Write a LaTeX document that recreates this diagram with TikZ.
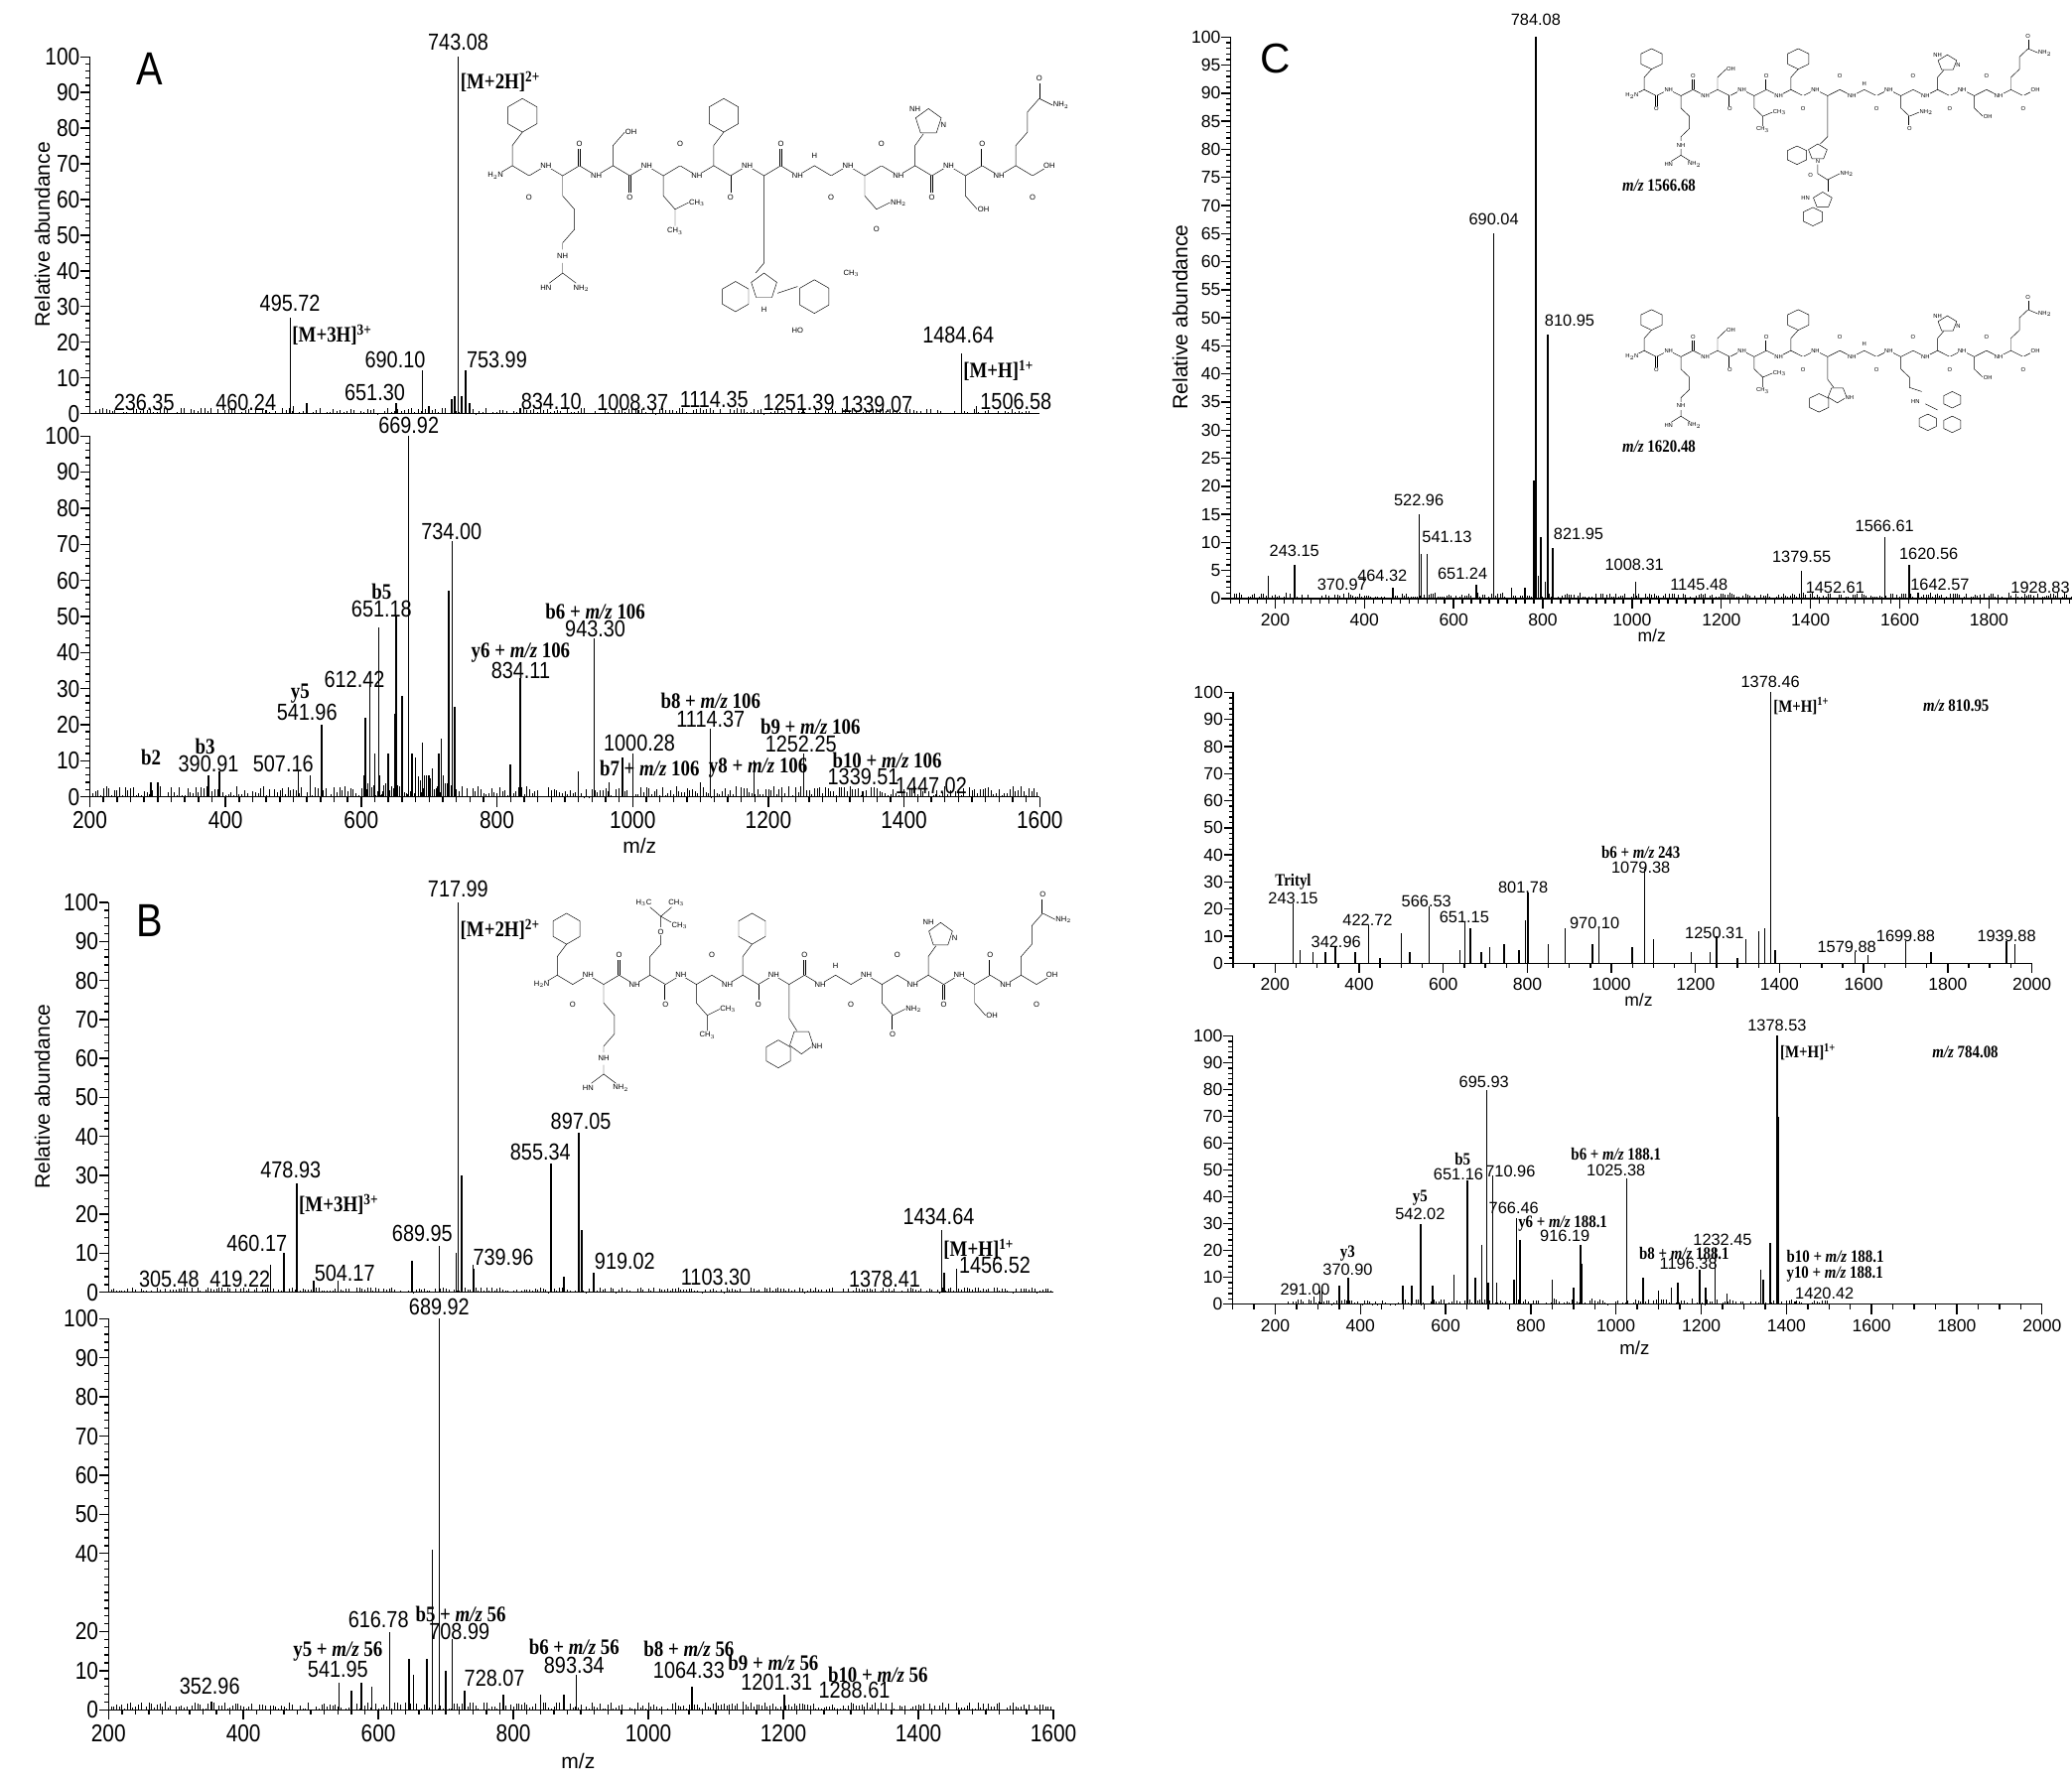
\documentclass[tikz,border=0pt]{standalone}
\usepackage{fontspec}
\setmainfont{Liberation Sans}
\newfontfamily\nar[FakeStretch=0.85]{Liberation Sans}
\newfontfamily\nsr[FakeStretch=0.85]{Liberation Serif}
\newcommand\mz{\textit{m/z}}
\newcommand\hexa[3]{\draw (#1,#2) ++(30:#3) -- ++(150:#3) -- ++(210:#3) -- ++(270:#3) -- ++(330:#3) -- ++(30:#3) -- cycle;}
\newcommand\penta[3]{\draw (#1,#2) +(90:#3) -- +(162:#3) -- +(234:#3) -- +(306:#3) -- +(18:#3) -- cycle;}
\newcommand\yaxis[4]{\draw[ax] (#1,0)--(#1,100);
 \foreach \p in {#3} \draw[ax] (#1,\p)--++(-0.13cm,0);
 \foreach \p in {#2} {\draw[ax] (#1,\p)--++(-0.28cm,0); \node[#4,anchor=east,xshift=-0.3cm] at (#1,\p) {\p};}}
\newcommand\xaxis[5]{\draw[ax] (#1,0)--(#2,0);
 \foreach \m in {#3} \draw[ax] (\m,0)--++(0,-0.15cm);
 \foreach \m in {#4} {\draw[ax] (\m,0)--++(0,-0.3cm); \node[#5,anchor=north,yshift=-0.45cm] at (\m,0){\m};}}
\newcommand\noise[2]{\foreach \m in {#1}{\draw[nz] (\m,0)--(\m,{rnd*#2});}}
\newcommand\peaks[1]{\foreach \m/\h in {#1}{\draw[pk] (\m,0)--(\m,\h);}}
\newcommand\labs[2]{\foreach \m/\h/\t in {#2}{\node[#1] at (\m,\h) {\t};}}
\newcommand\backbone{%
 \draw (0,0) \foreach \i in {1,...,32}{ -- ({\i*10},{mod(\i,2)*6}) } -- (330,6);
 \foreach \k in {0,...,10}{\pgfmathtruncatemacro\ii{3*\k+2}\pgfmathsetmacro\yy{mod(\ii,2)}
   \ifdim\yy pt=0pt \draw[double,double distance=1.2pt] (\ii*10,0)--(\ii*10,-10); \node[sm] at (\ii*10,-13){O};
   \else \draw[double,double distance=1.2pt] (\ii*10,6)--(\ii*10,16); \node[sm] at (\ii*10,19){O};\fi}
 \foreach \k in {1,...,10}{\pgfmathtruncatemacro\ii{3*\k}\node[sm] at (\ii*10,{mod(\ii,2)*6}){NH};}
 \node[sm] at (0,0){H$_2$N}; \node[sm] at (330,6){OH};}
\newcommand\res[2]{\pgfmathtruncatemacro\ii{3*#1+1}\pgfmathsetmacro\yy{mod(\ii,2)}
 \ifdim\yy pt=0pt \pic[yscale=-1] at (\ii*10,0) {#2};\else \pic at (\ii*10,6) {#2};\fi}
\usetikzlibrary{shapes.geometric}
\tikzset{
 lab/.style={font=\nar\fontsize{20}{22}\selectfont, inner sep=0pt},
 blab/.style={font=\nsr\bfseries\fontsize{19}{21}\selectfont, inner sep=0pt},
 tk/.style={font=\nar\fontsize{21}{22}\selectfont, inner sep=0pt},
 clab/.style={font=\fontsize{14}{15}\selectfont, inner sep=0pt},
 cblab/.style={font=\nsr\bfseries\fontsize{15}{16}\selectfont, inner sep=0pt},
 ctk/.style={font=\fontsize{15}{16}\selectfont, inner sep=0pt},
 pk/.style={line width=1.3pt}, nz/.style={line width=0.6pt}, ax/.style={line width=1.2pt},
 sm/.style={font=\fontsize{6.5}{7}\selectfont, inner sep=0.4pt, fill=white},
 phe/.pic={\draw (0,0)--(0,12)--(6,20); \hexa{6}{30}{10}},
 arg/.pic={\draw (0,0)--(0,12)--(7,20)--(7,32)--(0,40)--(0,44); \node[sm] at (0,48){NH};
   \draw (0,52)--(0,58)--(-8,64) (0,58)--(8,64); \node[sm] at (-10,67){HN}; \node[sm] at (11,67){NH$_2$};},
 ser/.pic={\draw (0,0)--(0,12)--(7,20); \node[sm,anchor=west] at (7,20){OH};},
 tbu/.pic={\draw (0,0)--(0,12)--(7,20)--(7,26); \node[sm] at (7,28){O}; \draw (7,31)--(7,38) (7,38)--(0,44) (7,38)--(14,44) (7,38)--(14,34);
   \node[sm] at (-4,47){H$_3$C}; \node[sm] at (17,47){CH$_3$}; \node[sm] at (19,32){CH$_3$};},
 leu/.pic={\draw (0,0)--(0,12)--(7,20)--(7,30); \draw (7,20)--(15,16); \node[sm,anchor=west] at (15,16){CH$_3$}; \node[sm] at (7,33){CH$_3$};},
 gly/.pic={\node[sm] at (0,6){H};},
 asn/.pic={\draw (0,0)--(0,12)--(7,20)--(15,16); \draw[double,double distance=1.2pt] (7,20)--(7,29); \node[sm] at (7,32){O}; \node[sm,anchor=west] at (15,16){NH$_2$};},
 his/.pic={\draw (0,0)--(0,12)--(5,19); \penta{8}{26}{8}; \node[sm] at (0,34){NH}; \node[sm] at (17,24){N};},
 gln/.pic={\draw (0,0)--(0,12)--(7,20)--(7,32)--(14,40)--(22,36); \draw[double,double distance=1.2pt] (14,40)--(14,49); \node[sm] at (14,52){O}; \node[sm,anchor=west] at (22,36){NH$_2$};},
 trp/.pic={\draw (0,0)--(0,22)--(5,30); \penta{8}{37}{8}; \hexa{-7}{45}{9}; \node[sm] at (18,40){NH};},
}
\begin{document}
\begin{tikzpicture}
\useasboundingbox (0,0) rectangle (62.72cm,-53.96cm);
\pgfmathsetseed{7}
% ---------- A top
\begin{scope}[shift={(-1.388cm,-12.52cm)},x=0.020544cm,y=0.108cm]
 \noise{204,209,...,1596}{1.6}
 \peaks{743.08/100,495.72/27,690.10/12,651.30/3,753.99/12,748/5,738/5,733/4,1484.64/17,1506.58/2,834.10/1.5,1114.35/1.5,1008.37/1,1251.39/1,236.35/1,460.24/1,520/3,700/2,760/3,500/2}
 \yaxis{200}{0,10,...,100}{0,2,...,100}{tk}
 \draw[ax] (200,0)--(1600,0);
 \labs{lab}{743/104/743.08,495/31/495.72,650/15/690.10,620/6/651.30,280/3/236.35,430/3/460.24,880/3.5/834.10,1000/3/1008.37,1120/4/1114.35,1245/3/1251.39,1360/2.5/1339.07,1480/22/1484.64,1565/3.5/1506.58}
 \node[lab,anchor=west] at (755,15){753.99};
 \node[blab,anchor=west] at (746,93){[M+2H]\textsuperscript{2+}};
 \node[blab,anchor=west] at (498,22){[M+3H]\textsuperscript{3+}};
 \node[blab,anchor=west] at (1487,12){[M+H]\textsuperscript{1+}};
\end{scope}
\node[font=\nar\fontsize{40}{40}\selectfont] (A) at (4.52cm,-2.08cm){A};
\node[rotate=90,font=\fontsize{18}{18}\selectfont] (ra) at (1.28cm,-7.1cm){Relative abundance};
% structure A
\begin{scope}[shift={(15.0cm,-5.32cm)},x=0.0508cm,y=0.0508cm]
 \backbone
 \res{0}{phe}\res{1}{arg}\res{2}{ser}\res{3}{leu}\res{4}{phe}
 \res{6}{gly}\res{7}{asn}\res{8}{his}\res{9}{ser}\res{10}{gln}
 \draw (160,0)--(160,-52)--(155,-58); \penta{160}{-66}{8}\hexa{143}{-72}{9}
 \draw (168,-70)--(180,-66); \hexa{190}{-72}{10}\node[sm] at (212,-58){CH$_3$};\node[sm] at (180,-92){HO};\node[sm] at (160,-80){H};
\end{scope}
% ---------- A bottom
\begin{scope}[shift={(-1.388cm,-24.12cm)},x=0.020544cm,y=0.1092cm]
 \noise{204,208,...,1596}{3}
 \noise{600,603,...,740}{6}
 \peaks{669.92/100,734/71,729/57,651.18/50,626/47,943.30/44,834.11/33,612.42/31,541.96/20,606/22,660/28,650/23,690/15,718/16,738/25,714/12,705/8,1114.37/19,1252.25/12,1000.28/12,985/11,1179/10,920/7,820/9,390.91/7,375/6,507.16/7,525/6,300/4,290/4,1339.51/1.5,1447.02/0.7,1100/4,1230/3,965/4,640/12,620/12,675/12,680/11,700/6}
 \yaxis{200}{0,10,...,100}{0,2,...,100}{tk}
 \xaxis{200}{1600}{200,220,...,1600}{200,400,...,1600}{tk}
 \labs{lab}{670/103/669.92,733/73.5/734.00,630/52/651.18,945/46.5/943.30,835/35/834.11,590/32.5/612.42,520/23.5/541.96,1115/21.5/1114.37,1248/14.5/1252.25,1010/15/1000.28,1340/5.5/1339.51,1440/3/1447.02,375/9/390.91,485/9/507.16}
 \labs{blab}{630/57/b5,510/28.5/y5,290/11/b2,370/14/b3}
 \node[blab] at (945,51.5){b6 + \mz{} 106};
 \node[blab] at (835,40){y6 + \mz{} 106};
 \node[blab] at (1115,26.5){b8 + \mz{} 106};
 \node[blab] at (1262,19.5){b9 + \mz{} 106};
 \node[blab] at (1025,8){b7 + \mz{} 106};
 \node[blab] at (1185,8){y8 + \mz{} 106};
 \node[blab] at (1375,10){b10 + \mz{} 106};
\end{scope}
\node[font=\fontsize{18}{18}\selectfont] (mza) at (19.36cm,-25.6cm){m/z};
% ---------- B top
\begin{scope}[shift={(-0.804cm,-39.12cm)},x=0.020429cm,y=0.118cm]
 \noise{204,208,...,1596}{1.3}
 \peaks{717.99/100,723/30,478.93/28,897.05/41,855.34/33,901/16,689.95/12,650/8,460.17/10,440/7,1434.64/16,1456.52/6,1438/5,739.96/7,742/6,919.02/5,504.17/3,540/3,875/4,715/10}
 \yaxis{200}{0,10,...,100}{0,2,...,100}{tk}
 \draw[ax] (200,0)--(1600,0);
 \labs{lab}{718/103.5/717.99,470/31.5/478.93,900/44/897.05,840/36/855.34,665/15/689.95,420/12.5/460.17,290/3.5/305.48,395/3.5/419.22,1100/4/1103.30,1350/3.5/1378.41,1430/19.5/1434.64}
 \node[lab,anchor=west] at (740,9){739.96};
 \node[lab,anchor=west] at (920,8){919.02};
 \node[lab,anchor=west] at (505,5){504.17};
 \node[lab,anchor=west] at (1460,7){1456.52};
 \node[blab,anchor=west] at (721,93){[M+2H]\textsuperscript{2+}};
 \node[blab,anchor=west] at (482,22.5){[M+3H]\textsuperscript{3+}};
 \node[blab,anchor=west] at (1437,11){[M+H]\textsuperscript{1+}};
\end{scope}
\node[font=\nar\fontsize{40}{40}\selectfont] (B) at (4.52cm,-27.88cm){B};
\node[rotate=90,font=\fontsize{18}{18}\selectfont] (rb) at (1.28cm,-33.2cm){Relative abundance};
\begin{scope}[shift={(16.4cm,-29.8cm)},x=0.0468cm,y=0.0468cm]
 \backbone
 \res{0}{phe}\res{1}{arg}\res{2}{tbu}\res{3}{leu}\res{4}{phe}\res{5}{trp}
 \res{6}{gly}\res{7}{asn}\res{8}{his}\res{9}{ser}\res{10}{gln}
\end{scope}
% ---------- B bottom
\begin{scope}[shift={(-0.804cm,-51.76cm)},x=0.020429cm,y=0.1184cm]
 \noise{204,208,...,1596}{2}
 \peaks{689.92/100,680/41,616.78/20,708.99/18,645/13,672/13,652/9,700/10,541.95/7,575/7,590/6,560/5,728.07/5,893.34/9,875/4,1064.33/6,1201.31/4,785/4,840/4,352.96/2,1288.61/1,1140/2}
 \draw[ax] (200,0)--(200,100);
 \foreach \p in {0,2,...,100} \draw[ax] (200,\p)--++(-0.13cm,0);
 \foreach \p in {0,10,20,40,50,60,70,80,90,100} {\draw[ax] (200,\p)--++(-0.28cm,0); \node[tk,anchor=east,xshift=-0.3cm] at (200,\p) {\p};}
 \xaxis{200}{1600}{200,220,...,1600}{200,400,...,1600}{tk}
 \labs{lab}{690/103/689.92,600/23/616.78,720/20/708.99,540/10.5/541.95,890/11.5/893.34,1060/10/1064.33,1190/7/1201.31,1305/5/1288.61,350/6/352.96}
 \node[lab,anchor=west] at (727,8){728.07};
 \node[blab] at (722,24.5){b5 + \mz{} 56};
 \node[blab] at (540,15){y5 + \mz{} 56};
 \node[blab] at (890,16){b6 + \mz{} 56};
 \node[blab] at (1060,15.5){b8 + \mz{} 56};
 \node[blab] at (1185,12){b9 + \mz{} 56};
 \node[blab] at (1340,9){b10 + \mz{} 56};
\end{scope}
\node[font=\fontsize{18}{18}\selectfont] (mzb) at (17.5cm,-53.3cm){m/z};
% ---------- C top
\begin{scope}[shift={(35.9cm,-18.12cm)},x=0.0135cm,y=0.17cm]
 \noise{104,109,...,1996}{1}
 \peaks{784.08/100,690.04/65,810.95/47,780/21,795/11,522.96/15,541.13/8,527/8,821.95/9,1566.61/11,1620.56/6,243.15/6,185/4,1379.55/5,1008.31/3,651.24/2.5,464.32/2,730/2,760/2,1642.57/1,790/4,805/3}
 \yaxis{100}{0,5,...,100}{0,1,...,100}{ctk}
 \xaxis{100}{1990}{100,120,...,1980}{200,400,...,1800}{ctk}
 \labs{clab}{784/103/784.08,690/67.5/690.04,860/49.5/810.95,522/17.5/522.96,585/11/541.13,880/11.5/821.95,243/8.5/243.15,350/2.5/370.97,440/4/464.32,620/4.5/651.24,1005/6/1008.31,1150/2.5/1145.48,1380/7.5/1379.55,1455/2/1452.61,1566/13/1566.61,1665/8/1620.56,1690/2.5/1642.57,1915/2/1928.83}
\end{scope}
\node[font=\fontsize{36}{36}\selectfont] (C) at (38.6cm,-1.76cm){C};
\node[rotate=90,font=\fontsize{18}{18}\selectfont] (rc) at (35.72cm,-9.6cm){Relative abundance};
\node[font=\fontsize{15}{15}\selectfont] (mzc) at (50cm,-19.24cm){m/z};
\begin{scope}[shift={(49.4cm,-2.9cm)},x=0.037cm,y=0.031cm,sm/.style={font=\fontsize{5}{6}\selectfont, inner sep=0.3pt, fill=white}]
 \backbone
 \res{0}{phe}\res{1}{arg}\res{2}{ser}\res{3}{leu}\res{4}{phe}
 \res{6}{gly}\res{7}{asn}\res{8}{his}\res{9}{ser}\res{10}{gln}
 \draw (160,0)--(160,-40)--(154,-47); \penta{152}{-55}{8}\hexa{135}{-58}{9}
 \node[sm] at (152,-64){N}; \draw (152,-67)--(152,-76)--(160,-82)--(170,-76); \node[sm] at (146,-78){O}; \node[sm,anchor=west] at (170,-76){NH$_2$};
 \draw (160,-82)--(160,-94); \penta{156}{-102}{8}\hexa{148}{-118}{9}\node[sm] at (142,-100){HN};
 \node[cblab,anchor=west] at (-8,-88){\mz{} 1566.68};
\end{scope}
\begin{scope}[shift={(49.4cm,-10.8cm)},x=0.037cm,y=0.031cm,sm/.style={font=\fontsize{5}{6}\selectfont, inner sep=0.3pt, fill=white}]
 \backbone
 \res{0}{phe}\res{1}{arg}\res{2}{ser}\res{3}{leu}\res{4}{phe}\res{5}{trp}
 \res{6}{gly}\res{8}{his}\res{9}{ser}\res{10}{gln}
 \draw (220,0)--(220,-12)--(227,-20)--(227,-30)--(237,-34); \node[sm] at (232,-44){HN};
 \draw (240,-46)--(250,-52); \hexa{262}{-42}{8}\hexa{262}{-66}{8}\hexa{242}{-64}{8}
 \node[cblab,anchor=west] at (-8,-88){\mz{} 1620.48};
\end{scope}
% ---------- C middle
\begin{scope}[shift={(36.052cm,-29.16cm)},x=0.012733cm,y=0.082cm]
 \peaks{1378.46/100,1079.38/35,801.78/26,795/16,243.15/22,566.53/21,422.72/14,651.15/15,665/13,890/13,970.10/13,1365/13,1350/12,1320/9,1250.31/10,500/11,1939.88/8,1960/7,1699.88/8,1760/4,1579.88/4,1610/3,1100/9,1050/6,850/7,955/7,342.96/6,260/5,290/4,320/4,390/4,1390/5,745/7,520/4,640/5,710/6,780/5,1190/4,1235/4,1300/2,450/2,690/4}
 \yaxis{100}{0,10,...,100}{0,2,...,100}{ctk}
 \xaxis{100}{2000}{100,150,...,2000}{200,400,...,2000}{ctk}
 \labs{clab}{1378/104/1378.46,1070/35.5/1079.38,243/24/243.15,345/8/342.96,420/16/422.72,560/23/566.53,650/17/651.15,790/28/801.78,960/15/970.10,1245/11/1250.31,1560/6/1579.88,1700/10/1699.88,1940/10/1939.88}
 \node[cblab] at (1070,41){b6 + \mz{} 243};
 \node[cblab] at (243,30){Trityl};
 \node[cblab,anchor=west] at (1385,95){[M+H]\textsuperscript{1+}};
 \node[cblab] at (1820,95){\mz{} 810.95};
\end{scope}
\node[font=\fontsize{15}{15}\selectfont] (mzd) at (49.6cm,-30.28cm){m/z};
% ---------- C bottom
\begin{scope}[shift={(36.024cm,-39.48cm)},x=0.012889cm,y=0.0812cm]
 \noise{230,236,...,1500}{2}
 \peaks{1378.53/100,1382/70,695.93/80,710.96/48,651.16/46,1025.38/47,542.02/30,775/24,766.46/32,916.19/22,920/15,685/22,1362/23,1232.45/21,1196.38/13,1340/13,1345/9,620/11,850/9,370.90/10,291/3,350/7,500/7,520/7,1063/10,1145/8,1210/6,1380/11,570/7,670/10,700/8,720/8,760/9,900/6,1100/5,1130/6,1260/4,305/5,310/6,1420.42/1}
 \yaxis{100}{0,10,...,100}{0,2,...,100}{ctk}
 \xaxis{100}{2000}{100,150,...,2000}{200,400,...,2000}{ctk}
 \labs{clab}{1378/104/1378.53,690/83/695.93,630/48.5/651.16,752/49.5/710.96,1000/50/1025.38,540/33.5/542.02,760/36/766.46,880/25.5/916.19,1250/24/1232.45,1170/15/1196.38,370/13/370.90,270/5.5/291.00}
 \node[clab,anchor=west] at (1420,4){1420.42};
 \node[cblab] at (640,54){b5};
 \node[cblab] at (540,39.5){y5};
 \node[cblab] at (370,19){y3};
 \node[cblab] at (1000,56){b6 + \mz{} 188.1};
 \node[cblab] at (875,30){y6 + \mz{} 188.1};
 \node[cblab] at (1160,19){b8 + \mz{} 188.1};
 \node[cblab,anchor=west] at (1400,18){b10 + \mz{} 188.1};
 \node[cblab,anchor=west] at (1400,11){y10 + \mz{} 188.1};
 \node[cblab,anchor=west] at (1385,94){[M+H]\textsuperscript{1+}};
 \node[cblab] at (1820,94){\mz{} 784.08};
\end{scope}
\node[font=\fontsize{16}{16}\selectfont] (mze) at (49.48cm,-40.8cm){m/z};
\end{tikzpicture}
\end{document}
